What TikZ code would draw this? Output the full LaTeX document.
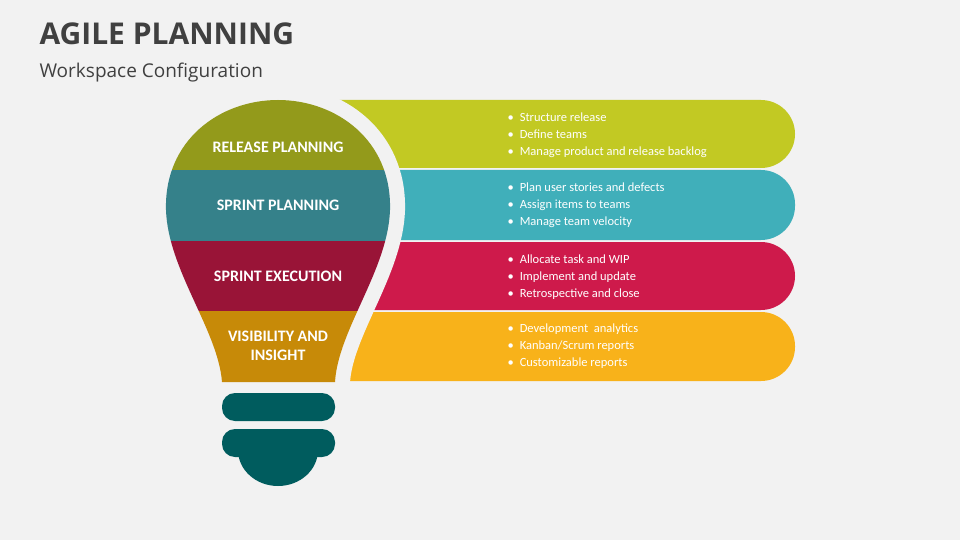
\documentclass[tikz,border=0pt]{standalone}
\usepackage{fontspec}
\setmainfont{Carlito}
\newfontfamily\titlefont{Open Sans}
\begin{document}
\begin{tikzpicture}[x=1pt,y=-1pt,
  band/.style={rounded corners=34pt},
  lbl/.style={text=white,font=\bfseries\fontsize{16}{19}\selectfont,align=center},
  items/.style={anchor=west,text=white,font=\fontsize{12.5}{17}\selectfont,align=left},
  base/.style={fill=basec,rounded corners=13pt}]
\definecolor{bg}{HTML}{F2F2F2}
\definecolor{g1}{HTML}{939A1B}\definecolor{g2}{HTML}{C2C923}
\definecolor{t1}{HTML}{35818A}\definecolor{t2}{HTML}{40AFBA}
\definecolor{r1}{HTML}{991437}\definecolor{r2}{HTML}{CE1A4B}
\definecolor{y1}{HTML}{C78A08}\definecolor{y2}{HTML}{F8B21A}
\definecolor{basec}{HTML}{005C5E}
\definecolor{txt}{HTML}{404040}
\fill[bg] (0,0) rectangle (960,540);
\useasboundingbox (0,0) rectangle (960,540);
\node[anchor=west,text=txt,font=\titlefont\bfseries\fontsize{30}{34}\selectfont] (title) at (36,34) {AGILE PLANNING};
\node[anchor=west,text=txt,font=\titlefont\fontsize{19}{22}\selectfont] (sub) at (36,73) {Workspace Configuration};
% bands
\begin{scope}
\clip (278,0) rectangle (960,540);
\fill[g2,band] (200,100) rectangle (795,168);
\fill[t2,band] (200,170) rectangle (795,240);
\fill[r2,band] (200,242) rectangle (795,310);
\fill[y2,band] (200,312) rectangle (795,381);
\end{scope}
\def\bulb{(222,382) .. controls (218,330) and (168,270) .. (166,210) .. controls (164,140) and (220,100) .. (278,100) .. controls (336,100) and (392,140) .. (390,210) .. controls (388,270) and (338,330) .. (335,382) -- cycle}
\draw[bg,line width=30pt] \bulb;
\begin{scope}
\clip \bulb;
\fill[g1] (150,90) rectangle (410,170);
\fill[t1] (150,170) rectangle (410,241);
\fill[r1] (150,241) rectangle (410,311);
\fill[y1] (150,311) rectangle (410,383);
\end{scope}
\node[lbl] (l1) at (278,147) {RELEASE PLANNING};
\node[lbl] (l2) at (278,205) {SPRINT PLANNING};
\node[lbl] (l3) at (278,276) {SPRINT EXECUTION};
\node[lbl] (l4) at (278,346) {VISIBILITY AND\\INSIGHT};
% base
\fill[base] (222,393) rectangle (335,421);
\fill[basec] (238,450) arc[start angle=180,end angle=360,x radius=40,y radius=-36];
\fill[base] (222,429) rectangle (335,457);
% items
\node[items] (i1) at (504,135) {•\hspace{6pt}Structure release\\•\hspace{6pt}Define teams\\•\hspace{6pt}Manage product and release backlog};
\node[items] (i2) at (504,205) {•\hspace{6pt}Plan user stories and defects\\•\hspace{6pt}Assign items to teams\\•\hspace{6pt}Manage team velocity};
\node[items] (i3) at (504,277) {•\hspace{6pt}Allocate task and WIP\\•\hspace{6pt}Implement and update\\•\hspace{6pt}Retrospective and close};
\node[items] (i4) at (504,346) {•\hspace{6pt}Development\ \ analytics\\•\hspace{6pt}Kanban/Scrum reports\\•\hspace{6pt}Customizable reports};
\end{tikzpicture}
\end{document}
